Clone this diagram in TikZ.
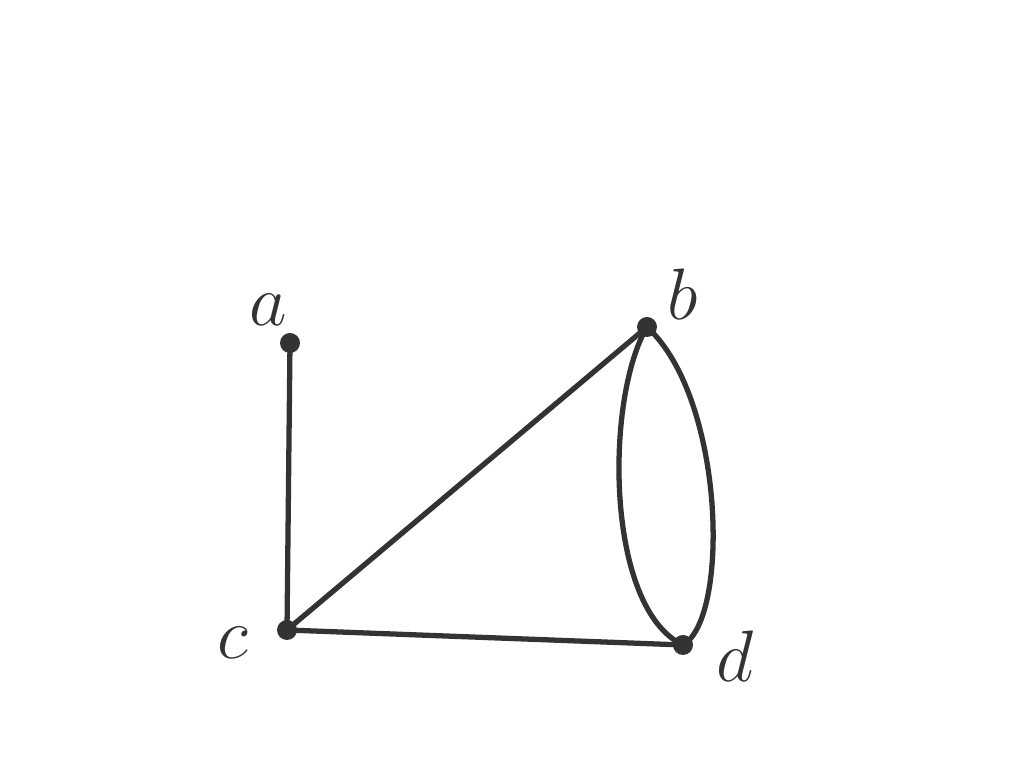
\documentclass[tikz,border=0pt]{standalone}
\usepackage{tikz}
\usetikzlibrary{positioning}

\begin{document}
\begin{tikzpicture}[x=1cm,y=1cm,
        vertex/.style={circle,fill=black!80,inner sep=0pt,minimum size=0.2cm},
        lbl/.style={font=\fontsize{22}{26}\selectfont,text=black!80},
        edge/.style={draw=black!80,line width=1.5pt,line cap=round}]
        \useasboundingbox (0,0) rectangle (10.24,7.68);
        \node[vertex](a) at (2.90,4.25) {};
        \node[vertex](b) at (6.47,4.41) {};
        \node[vertex](c) at (2.87,1.38) {};
        \node[vertex](d) at (6.83,1.23) {};
        \node[lbl](la) at (2.68,4.58) {$a$};
        \node[lbl](lb) at (6.83,4.74) {$b$};
        \node[lbl](lc) at (2.33,1.25) {$c$};
        \node[lbl](ld) at (7.35,1.12) {$d$};
        \draw[edge] (a.center) -- (c.center);
        \draw[edge] (c.center) -- (b.center);
        \draw[edge] (c.center) -- (d.center);
        \draw[edge] (b.center) .. controls (6.05,3.70) and (6.05,1.60) .. (d.center);
        \draw[edge] (b.center) .. controls (7.25,3.70) and (7.30,1.50) .. (d.center);
    \end{tikzpicture}
\end{document}
